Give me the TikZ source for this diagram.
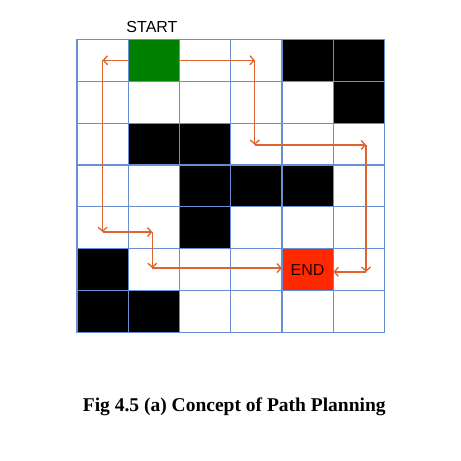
\documentclass[tikz,border=0pt]{standalone}
\usepackage{fontspec}
\setmainfont{Liberation Serif}
\setsansfont{Liberation Sans}
\usetikzlibrary{arrows.meta}
\definecolor{gridblue}{RGB}{105,142,212}
\definecolor{routeorange}{RGB}{224,98,44}
\definecolor{startgreen}{RGB}{0,128,0}
\definecolor{endred}{RGB}{255,40,0}
\begin{document}
\begin{tikzpicture}[x=51.25pt, y=-41.9pt,
		cell/.style={minimum width=51.25pt, minimum height=41.9pt, inner sep=0pt},
		gridline/.style={gridblue, line width=1.1pt},
		route/.style={routeorange, line width=1.3pt, -{Straight Barb[length=4pt,width=9pt]}},
		marktext/.style={font=\sffamily\fontsize{16}{18}\selectfont}]
		\useasboundingbox[fill=white] (-1.5024,-0.938) rectangle (7.4732,10.064);
		% obstacles
		\foreach \c/\r in {4/0,5/0,5/1,1/2,2/2,2/3,3/3,4/3,2/4,0/5,0/6,1/6}
			\fill[black] (\c,\r) rectangle ++(1,1);
		\node[cell, fill=startgreen] (startcell) at (1.5,0.5) {};
		\node[cell, fill=endred, marktext, text=black!85!red] (endcell) at (4.5,5.5) {END};
		\node[marktext, anchor=base, inner sep=0pt] (starttext) at (1.463,-0.157) {START};
		% grid
		\foreach \c in {0,...,6}
			\draw[gridline] (\c,0) -- (\c,7);
		\foreach \r in {0,...,7}
			\draw[gridline] (0,\r) -- (6,\r);
		% left route
		\coordinate (a1) at (0.5,0.5);
		\coordinate (a2) at (0.5,4.6);
		\coordinate (a3) at (1.47,4.6);
		\coordinate (a4) at (1.47,5.46);
		\draw[route] (startcell.west) -- (a1);
		\draw[route] (a1) -- (a2);
		\draw[route] (a2) -- (a3);
		\draw[route] (a3) -- (a4);
		\draw[route] (a4) -- (a4 -| endcell.west);
		% right route
		\coordinate (b1) at (3.47,0.5);
		\coordinate (b2) at (3.47,2.52);
		\coordinate (b3) at (5.64,2.52);
		\coordinate (b4) at (5.64,5.55);
		\draw[route] (startcell.east) -- (b1);
		\draw[route] (b1) -- (b2);
		\draw[route] (b2) -- (b3);
		\draw[route] (b3) -- (b4);
		\draw[route] (b4) -- (b4 -| endcell.east);
		\node[anchor=base, inner sep=0pt, font=\bfseries\fontsize{19.5}{22}\selectfont] (caption) at (3.069,8.888) {Fig 4.5 (a) Concept of Path Planning};
	\end{tikzpicture}
\end{document}
